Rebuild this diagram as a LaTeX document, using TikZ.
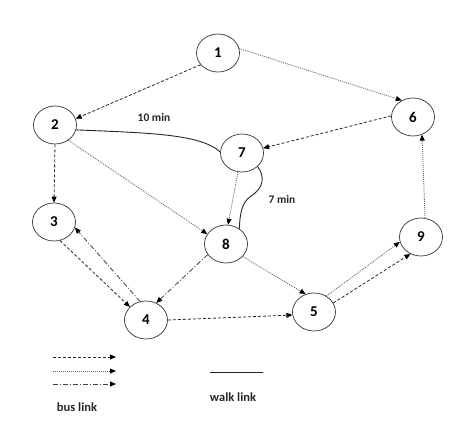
\documentclass[tikz,border=0pt]{standalone}
\usepackage{fontspec}
\setmainfont{Carlito}
\usetikzlibrary{arrows.meta,shapes.geometric}
\begin{document}
\begin{tikzpicture}[x=1pt,y=-1pt,
  stop/.style={ellipse,draw=black!80,line width=0.7pt,minimum width=43pt,minimum height=38pt,inner sep=0pt,font=\fontsize{15}{15}\selectfont\bfseries},
  tip/.style={-{Triangle[length=6pt,width=5pt,color=black]}},
  busdash/.style={tip,draw=black!85,line width=0.8pt,dash pattern=on 3pt off 2pt},
  busdot/.style={tip,draw=black!60,line width=0.8pt,dash pattern=on 1pt off 1pt},
  busdd/.style={tip,draw=black!75,line width=0.8pt,dash pattern=on 5pt off 2pt on 1pt off 2pt},
  walk/.style={draw=black!85,line width=0.9pt},
  lbl/.style={font=\fontsize{11.5}{11.5}\selectfont\bfseries,text=black!85}]
\useasboundingbox (0,0) rectangle (474,421);
\node[stop] (n1) at (218,53) {1};
\node[stop] (n2) at (55,125) {2};
\node[stop] (n3) at (54,222) {3};
\node[stop] (n4) at (146,320) {4};
\node[stop] (n5) at (314,312) {5};
\node[stop] (n6) at (413,117) {6};
\node[stop] (n7) at (242,153) {7};
\node[stop] (n8) at (226,244) {8};
\node[stop] (n9) at (421,237) {9};
% bus links
\draw[busdash] (n1.214) -- (n2.17);
\draw[busdot] (n1.12) -- (n6.124);
\draw[busdash] (n6.177) -- (n7.13);
\draw[busdash] (n2.-90) -- (n3.90);
\draw[busdot] (n2.-49) -- (n8.152);
\draw[busdot] (n7.-102) -- (n8.84);
\draw[busdash] (n3.-72) -- (n4.141);
\draw[busdd] (n4.108) -- (n3.-15);
\draw[busdd] (n8.210) -- (n4.59);
\draw[busdot] (n8.-37) -- (n5.115);
\draw[busdash] (n4.0) -- (n5.188);
\draw[busdot] (n5.52) -- (n9.193);
\draw[busdash] (n5.25) -- (n9.238);
\draw[busdot] (n9.78) -- (n6.-63);
% walk links
\draw[walk] (n2.-13) .. controls (150,133) and (200,134) .. (n7.177);
\draw[walk] (n7.-41) .. controls (265,176) and (264,188) .. (251,196) .. controls (241,203) and (240,215) .. (n8.49);
\node[lbl] (t10) at (154,118) {10 min};
\node[lbl] (t7) at (282,199) {7 min};
% legend
\coordinate (la1) at (53,357); \coordinate (lb1) at (116,357);
\coordinate (la2) at (53,371); \coordinate (lb2) at (116,371);
\coordinate (la3) at (53,384); \coordinate (lb3) at (116,384);
\draw[busdash] (la1) -- (lb1);
\draw[busdot] (la2) -- (lb2);
\draw[busdd] (la3) -- (lb3);
\node[lbl,font=\fontsize{12.5}{12.5}\selectfont\bfseries] (bl) at (77,407) {bus link};
\coordinate (wa) at (210,372); \coordinate (wb) at (263,372);
\draw[walk] (wa) -- (wb);
\node[lbl,font=\fontsize{12.5}{12.5}\selectfont\bfseries] (wl) at (233,397) {walk link};
\end{tikzpicture}
\end{document}
